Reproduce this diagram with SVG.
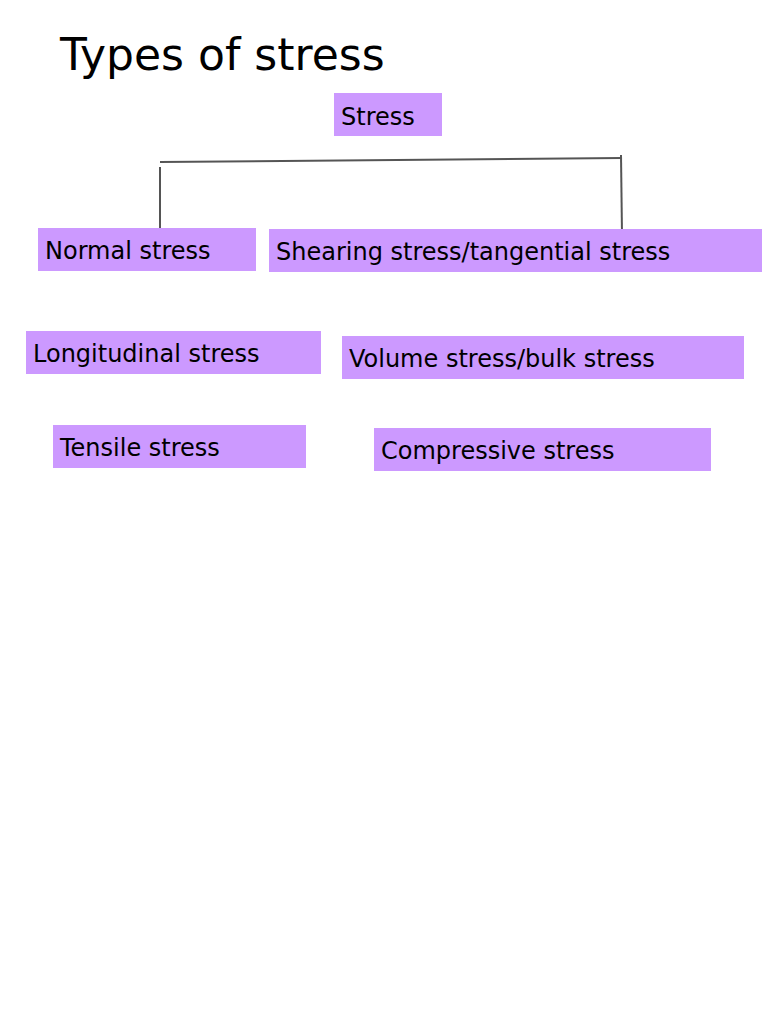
<svg xmlns="http://www.w3.org/2000/svg" width="768" height="1024" viewBox="0 0 768 1024">
<style>
.box{fill:#cc99ff}
.t{font-family:"DejaVu Sans",sans-serif;font-size:24px;fill:#000}
.title{font-family:"DejaVu Sans",sans-serif;font-size:44px;fill:#000}
.c{stroke:#555;stroke-width:2;fill:none}
</style>
<rect width="768" height="1024" fill="#fff"/>
<text class="title" x="60" y="70">Types of stress</text>
<g id="connectors">
<path class="c" d="M160 162 L622 158"/>
<path class="c" d="M160 167 L160 232"/>
<path class="c" d="M621 155 L622 235"/>
</g>
<g id="stress"><rect class="box" x="334" y="93" width="108" height="43"/><text class="t" x="341" y="125">Stress</text></g>
<g id="normal"><rect class="box" x="38" y="228" width="218" height="43"/><text class="t" x="45" y="259">Normal stress</text></g>
<g id="shearing"><rect class="box" x="269" y="229" width="493" height="43"/><text class="t" x="276" y="260">Shearing stress/tangential stress</text></g>
<g id="longitudinal"><rect class="box" x="26" y="331" width="295" height="43"/><text class="t" x="33" y="362">Longitudinal stress</text></g>
<g id="volume"><rect class="box" x="342" y="336" width="402" height="43"/><text class="t" x="349" y="367">Volume stress/bulk stress</text></g>
<g id="tensile"><rect class="box" x="53" y="425" width="253" height="43"/><text class="t" x="60" y="456">Tensile stress</text></g>
<g id="compressive"><rect class="box" x="374" y="428" width="337" height="43"/><text class="t" x="381" y="459">Compressive stress</text></g>
</svg>
